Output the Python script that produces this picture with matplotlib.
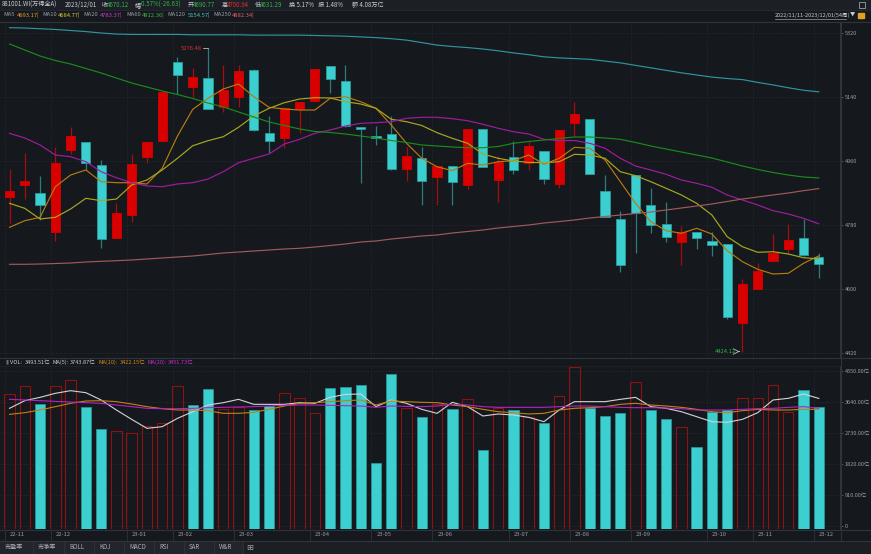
import numpy as np
import matplotlib.pyplot as plt
from matplotlib.patches import Rectangle
from matplotlib.lines import Line2D
from matplotlib.transforms import blended_transform_factory

plt.rcParams['font.family'] = ['Noto Sans CJK SC', 'DejaVu Sans']

# weekly candles 2022/11/11 - 2023/12/01 (54 weeks), 881001.WI
opens = [4859.7, 4893.4, 4870.0, 4759.4, 4990.9, 5014.4, 4949.7, 4743.4, 4808.1, 4970.3,
         5017.2, 5237.5, 5169.0, 5192.5, 5111.9, 5139.0, 5215.0, 5037.8, 5023.7, 5107.2,
         5129.7, 5227.2, 5186.0, 5054.7, 5031.0, 5035.0, 4938.4, 4969.4, 4915.0, 4947.0,
         4893.4, 5049.0, 4906.6, 4972.0, 4953.4, 4989.0, 4896.2, 5066.0, 5077.2, 4876.6,
         4796.9, 4920.6, 4836.3, 4782.8, 4732.2, 4759.4, 4734.0, 4726.6, 4505.3, 4600.9,
         4679.7, 4711.6, 4744.4, 4690.77]
closes = [4875.6, 4903.7, 4836.3, 4954.4, 5031.0, 4953.4, 4740.6, 4812.8, 4951.6, 5013.4,
          5155.0, 5201.0, 5196.3, 5107.2, 5158.7, 5213.1, 5047.2, 5017.2, 5110.0, 5125.0,
          5217.8, 5189.7, 5058.4, 5049.0, 5025.6, 4937.5, 4973.1, 4902.8, 4946.0, 4902.0,
          5050.0, 4942.0, 4958.0, 4934.7, 5003.1, 4909.4, 5047.0, 5092.0, 4922.5, 4803.4,
          4666.6, 4814.7, 4780.0, 4747.2, 4761.3, 4742.5, 4722.8, 4520.3, 4613.0, 4650.6,
          4700.3, 4737.8, 4696.75, 4670.12]
highs = [4936.6, 4983.4, 4918.8, 4998.4, 5054.7, 5014.4, 4962.8, 4840.9, 4979.7, 5013.4,
         5157.0, 5253.4, 5222.5, 5276.48, 5230.0, 5230.0, 5218.0, 5087.5, 5110.0, 5125.0,
         5219.0, 5228.0, 5231.0, 5055.0, 5059.4, 5086.6, 5000.0, 5000.0, 4946.0, 4947.0,
         5050.0, 5049.0, 4974.0, 5016.3, 5014.4, 4989.0, 5047.0, 5125.9, 5077.2, 4920.6,
         4819.4, 4920.6, 4885.0, 4844.7, 4778.0, 4759.4, 4760.3, 4726.6, 4628.0, 4672.2,
         4754.7, 4781.9, 4795.9, 4700.94]
lows = [4784.7, 4852.2, 4794.0, 4735.9, 4979.7, 4934.7, 4716.2, 4743.4, 4789.4, 4955.3,
        5015.0, 5148.4, 5140.9, 5105.0, 5098.8, 5111.0, 5045.0, 4981.6, 4995.6, 5037.8,
        5128.0, 5150.0, 5056.0, 4899.0, 5005.0, 4936.0, 4904.7, 4837.0, 4837.0, 4836.0,
        4880.3, 4942.0, 4845.6, 4923.4, 4934.7, 4895.3, 4883.0, 5031.0, 4922.5, 4802.0,
        4648.8, 4702.2, 4758.4, 4731.3, 4667.5, 4711.6, 4692.8, 4516.6, 4424.12, 4600.9,
        4679.7, 4700.3, 4692.8, 4631.29]
# volume, 亿
volumes = [3864, 4109, 3579, 4109, 4276, 3500, 2844, 2785, 2718, 2932,
           3011, 4099, 3540, 4020, 3420, 3500, 3403, 3516, 3893, 3746,
           3305, 4049, 4089, 4147, 1834, 4452, 3473, 3206, 3577, 3442,
           3717, 2216, 3451, 3413, 3200, 3030, 3815, 4677, 3472, 3226,
           3305, 4226, 3403, 3148, 2913, 2324, 3354, 3403, 3746, 3746,
           4138, 3341, 4001, 3493.51]

# moving averages as drawn
ma5 = [4773.5, 4792.1, 4801.6, 4887.7, 4920.6, 4934.7, 4901.8, 4899.0, 4899.0, 4895.3,
       4939.5, 5030.3, 5105.4, 5136.3, 5162.5, 5176.6, 5140.8, 5111.0, 5106.2, 5103.4,
       5103.4, 5136.3, 5140.8, 5126.8, 5108.2, 5061.2, 5009.8, 4967.6, 4943.9, 4932.7,
       4953.5, 4948.7, 4958.0, 4960.8, 4976.9, 4950.7, 4967.6, 4998.5, 4995.7, 4962.8,
       4901.8, 4841.0, 4789.3, 4764.0, 4756.6, 4770.7, 4754.7, 4707.7, 4676.8, 4655.4,
       4642.2, 4644.2, 4672.3, 4693.17]
ma10 = [4841.0, 4826.9, 4796.9, 4801.6, 4825.0, 4855.1, 4848.3, 4853.1, 4892.5, 4906.6,
        4934.7, 4967.6, 5003.0, 5017.1, 5028.3, 5054.8, 5086.6, 5108.2, 5124.0, 5134.4,
        5138.0, 5137.2, 5126.8, 5120.3, 5108.2, 5077.3, 5070.5, 5059.8, 5039.6, 5023.8,
        5009.8, 4979.7, 4967.6, 4960.0, 4956.3, 4955.2, 4958.0, 4978.8, 4976.9, 4967.6,
        4929.9, 4918.6, 4901.8, 4883.2, 4864.4, 4841.0, 4808.1, 4747.1, 4718.9, 4703.2,
        4704.9, 4698.4, 4688.0, 4684.77]
ma20 = [5037.9, 5024.7, 5005.0, 4976.9, 4972.1, 4958.0, 4929.9, 4913.0, 4899.0, 4889.7,
        4887.7, 4895.3, 4899.0, 4909.4, 4929.9, 4955.2, 4967.6, 4979.7, 5007.8, 5021.0,
        5037.9, 5047.2, 5058.4, 5066.0, 5067.7, 5070.5, 5080.1, 5082.9, 5082.9, 5079.0,
        5073.3, 5063.2, 5052.0, 5042.4, 5035.9, 5021.0, 5017.1, 5017.6, 5009.8, 4995.7,
        4967.6, 4945.9, 4934.7, 4922.6, 4906.6, 4897.3, 4886.1, 4864.4, 4850.3, 4836.3,
        4820.3, 4811.0, 4798.8, 4783.37]
ma60 = [5289.1, 5272.2, 5255.3, 5242.7, 5232.8, 5220.2, 5207.5, 5193.4, 5179.4, 5168.1,
        5156.9, 5147.0, 5135.8, 5123.1, 5112.1, 5097.8, 5083.8, 5069.7, 5059.8, 5050.0,
        5043.0, 5040.2, 5035.9, 5030.3, 5024.7, 5017.6, 5012.0, 5005.0, 5002.2, 4999.4,
        4997.4, 4997.4, 5000.8, 5009.8, 5014.8, 5019.1, 5023.3, 5027.5, 5027.5, 5024.7,
        5021.0, 5012.0, 5002.2, 4993.7, 4985.3, 4976.9, 4968.4, 4957.2, 4946.0, 4936.1,
        4927.7, 4920.6, 4915.0, 4912.36]
ma120 = [5335, 5334, 5332, 5330, 5327, 5324, 5320, 5317, 5316, 5316,
         5316, 5316, 5315, 5315, 5315, 5315, 5314, 5314, 5314, 5314,
         5313, 5312, 5311, 5309, 5307, 5304, 5300, 5293, 5286, 5282,
         5279, 5275, 5270, 5264, 5259, 5253, 5250, 5248, 5246, 5241,
         5236, 5229, 5222, 5215, 5208, 5202, 5196, 5192, 5189, 5181,
         5174, 5166, 5159, 5154.57]
ma250 = [4669.5, 4669.5, 4670.3, 4671.7, 4673.1, 4675.9, 4677.9, 4679.6, 4681.6, 4684.4,
         4687.2, 4690.0, 4692.8, 4697.0, 4701.3, 4704.0, 4706.9, 4709.7, 4712.5, 4714.5,
         4718.1, 4722.3, 4726.6, 4732.2, 4735.0, 4740.6, 4744.8, 4749.1, 4751.9, 4757.5,
         4761.7, 4765.9, 4771.6, 4775.8, 4780.0, 4785.6, 4789.8, 4794.1, 4799.7, 4803.9,
         4808.1, 4812.3, 4816.6, 4822.2, 4827.8, 4833.4, 4839.1, 4846.1, 4853.1, 4858.8,
         4864.4, 4870.0, 4876.5, 4882.34]
vol_ma5 = [3452, 3677, 3775, 3893, 3971, 3912, 3697, 3403, 3128, 2863,
           2912, 3157, 3353, 3550, 3618, 3716, 3569, 3569, 3569, 3618,
           3599, 3775, 3863, 3873, 3501, 3697, 3599, 3422, 3304, 3628,
           3501, 3226, 3285, 3255, 3187, 3059, 3403, 3648, 3648, 3648,
           3716, 3775, 3501, 3452, 3353, 3206, 3059, 3040, 3128, 3324,
           3697, 3746, 3873, 3743.87]
vol_ma10 = [3275, 3324, 3403, 3501, 3599, 3667, 3677, 3648, 3579, 3501,
            3442, 3403, 3403, 3383, 3305, 3305, 3334, 3422, 3520, 3599,
            3618, 3648, 3677, 3697, 3550, 3667, 3648, 3628, 3618, 3550,
            3501, 3422, 3353, 3324, 3285, 3305, 3403, 3452, 3471, 3501,
            3569, 3599, 3550, 3520, 3481, 3422, 3353, 3324, 3383, 3422,
            3403, 3403, 3422, 3422.15]
vol_ma20 = [3716, 3697, 3677, 3657, 3638, 3618, 3599, 3550, 3501, 3452,
            3442, 3442, 3452, 3471, 3481, 3491, 3501, 3520, 3540, 3550,
            3550, 3540, 3530, 3520, 3481, 3520, 3510, 3501, 3520, 3569,
            3550, 3501, 3481, 3481, 3481, 3481, 3501, 3520, 3520, 3501,
            3481, 3471, 3471, 3461, 3442, 3403, 3403, 3403, 3422, 3442,
            3452, 3481, 3501, 3451.73]

month_labels = ['22-11', '22-12', '23-01', '23-02', '23-03', '23-04', '23-05',
                '23-06', '23-07', '23-08', '23-09', '23-10', '23-11', '23-12']
month_index = [0, 3, 8, 11, 15, 20, 24, 28, 33, 37, 41, 46, 49, 53]
price_ticks = [4420, 4600, 4780, 4960, 5140, 5320]
vol_ticks = [0, 910, 1820, 2730, 3640, 4550]
tabs = ['市盈率', '市净率', 'BOLL', 'KDJ', 'MACD', 'RSI', 'SAR', 'W&R', '⊞']

W, H = 871, 554
BG = '#15181d'
GRID = '#262a31'
LINE = '#2f333a'
TXT = '#9a9ea6'
RED = '#d90000'
CYAN = '#3ccfcf'
GREEN = '#2fb24a'

def fx(x):
    return x / W

def fy(y):
    return 1 - y / H

fig = plt.figure(figsize=(W / 100, H / 100), dpi=100, facecolor=BG)

def txt(x, y, s, color=TXT, size=4.2, ha='left'):
    fig.text(fx(x), fy(y), s, color=color, fontsize=size, ha=ha, va='center')

def hline(y, x0=0, x1=W, color=LINE, lw=0.8):
    fig.add_artist(Line2D([fx(x0), fx(x1)], [fy(y), fy(y)], color=color, lw=lw))

def vline(x, y0, y1, color=LINE, lw=0.8):
    fig.add_artist(Line2D([fx(x), fx(x)], [fy(y0), fy(y1)], color=color, lw=lw))

# header strip
fig.add_artist(Rectangle((0, fy(10)), 1, 10 / H, color='#1c1f25', zorder=0))
hline(10, color='#24272e')
hline(21.5)

n = len(closes)
x = np.arange(n)
o = np.array(opens); c = np.array(closes)
hi = np.array(highs); lo = np.array(lows)
up = c >= o
vol_up = c >= np.r_[o[0], c[:-1]]

chg = c[-1] - c[-2]
head = [(2, '881001.WI(万得全A)', '#c9ccd1'), (65, '2023/12/01', '#c9ccd1'),
        (102, '收', '#c9ccd1'), (107, f'{c[-1]:.2f}', GREEN),
        (135, '幅', '#c9ccd1'), (140, f'{chg / c[-2] * 100:.2f}%({chg:.2f})', GREEN),
        (188, '开', '#c9ccd1'), (193, f'{o[-1]:.2f}', GREEN),
        (222, '高', '#c9ccd1'), (227, f'{hi[-1]:.2f}', '#e03030'),
        (255, '低', '#c9ccd1'), (260, f'{lo[-1]:.2f}', GREEN),
        (289, '换 5.17%', '#c9ccd1'), (318, '振 1.48%', '#c9ccd1'),
        (352, '额 4.08万亿', '#c9ccd1')]
for hx, s, col in head:
    txt(hx, 5, s, col, 4.4)

ma_defs = [('MA5', ma5, '#b87a10', '#e39a2c', 3, 17),
           ('MA10', ma10, '#a8a81e', '#d4c83a', 42, 58),
           ('MA20', ma20, '#a01ca0', '#d43ad4', 83, 100),
           ('MA60', ma60, '#1b8a1b', '#3cb83c', 126, 142),
           ('MA120', ma120, '#2f959c', '#45c6cc', 167, 188),
           ('MA250', ma250, '#a05a5a', '#e06464', 213, 232)]
for name, vals, lc, tc, lx, vx in ma_defs:
    txt(lx, 15, name, TXT, 4.2)
    txt(vx, 15, f'{vals[-1]:.2f}|', tc, 4.2)

txt(775, 15, '2022/11/11-2023/12/01(54周)', '#c9ccd1', 4.0)
hline(18.5, 775, 846, '#9a9ea6', 0.5)
txt(850, 15, '▼', '#c9ccd1', 3.8)
fig.add_artist(Rectangle((fx(858), fy(18)), 6 / W, 5 / H, color='#e0a020'))
fig.add_artist(Rectangle((fx(859), fy(8)), 6 / W, 6 / H, fill=False, ec='#9a9ea6', lw=0.6))

# price panel
xl = (-9.5 / 15.27, (840 - 9.5) / 15.27)
ax = fig.add_axes([0, fy(358), fx(840), (358 - 22) / H])
ax.set_facecolor(BG)
ax.set_xlim(*xl)
ax.set_ylim(5320 - (358 - 33) * 2.8125, 5320 + (33 - 22) * 2.8125)

ax.vlines(x, lo, hi, colors=np.where(up, '#a80c0c', '#2c7c7e'), lw=0.9, zorder=2)
ax.bar(x, np.maximum(np.abs(c - o), 1.5), bottom=np.minimum(o, c), width=0.6,
       color=np.where(up, RED, CYAN), edgecolor=np.where(up, RED, '#2a9a9c'),
       lw=0.6, zorder=3)
for name, vals, lc, tc, lx, vx in ma_defs:
    ax.plot(x, vals, color=lc, lw=0.85, zorder=4)

ih = int(np.argmax(hi))
ax.plot([ih - 0.33, ih], [hi[ih], hi[ih]], color='#b8bcc2', lw=0.6, zorder=5)
ax.text(ih - 0.38, hi[ih], f'{hi[ih]:.2f}', color='#d83030', fontsize=4.2,
        ha='right', va='center')
il = int(np.argmin(lo))
ax.annotate('', xy=(il, lo[il]), xytext=(il - 0.38, lo[il]),
            arrowprops=dict(arrowstyle='->', color='#b8bcc2', lw=0.6))
ax.text(il - 0.42, lo[il], f'{lo[il]:.2f}', color=GREEN, fontsize=4.2,
        ha='right', va='center')

# volume panel
ax2 = fig.add_axes([0, fy(529), fx(840), (529 - 366) / H])
ax2.set_facecolor(BG)
ax2.set_xlim(*xl)
vmin = -(529 - 525.7) * 29.41
ax2.set_ylim(vmin, (525.7 - 366) * 29.41)
vol = np.array(volumes)
for i in range(n):
    if vol_up[i]:
        ax2.bar(x[i], vol[i] - vmin, bottom=vmin, width=0.68, facecolor='none',
                edgecolor='#8e1212', lw=0.8, zorder=2)
    else:
        ax2.bar(x[i], vol[i] - vmin, bottom=vmin, width=0.68, color=CYAN,
                edgecolor='#2a9a9c', lw=0.5, zorder=2)
ax2.plot(x, vol_ma5, color='#d2d4d8', lw=0.8, zorder=4)
ax2.plot(x, vol_ma10, color='#c08414', lw=0.8, zorder=4)
ax2.plot(x, vol_ma20, color='#b422c4', lw=0.8, zorder=4)

vx_list = [(5, '▮', '#6a6e76'), (10, 'VOL:', '#c9ccd1'), (25, f'{vol[-1]:.2f}亿', '#c9ccd1'),
           (52, 'MA(5):', '#c9ccd1'), (70, f'{vol_ma5[-1]:.2f}亿', '#c9ccd1'),
           (98, 'MA(10):', '#d08a18'), (120, f'{vol_ma10[-1]:.2f}亿', '#d08a18'),
           (147, 'MA(20):', '#c82ad4'), (168, f'{vol_ma20[-1]:.2f}亿', '#c82ad4')]
for vx, s, col in vx_list:
    txt(vx, 362, s, col, 4.0)

for a, ticks, labels in [(ax, price_ticks, [str(t) for t in price_ticks]),
                         (ax2, vol_ticks, ['0'] + [f'{t:.2f}亿' for t in vol_ticks[1:]])]:
    for sp in ['top', 'left', 'bottom']:
        a.spines[sp].set_visible(False)
    a.spines['right'].set_color(LINE)
    a.yaxis.tick_right()
    a.set_yticks(ticks)
    a.set_yticklabels(labels)
    a.tick_params(axis='y', colors='#5a5e66', labelcolor=TXT, labelsize=4.0,
                  length=2, width=0.6, pad=1.5)
    a.set_xticks([m - 0.3 for m in month_index])
    a.tick_params(axis='x', length=0, labelbottom=False)
    a.grid(True, color=GRID, linestyle=(0, (1.5, 2)), lw=0.6)
    a.set_axisbelow(True)

hline(358)
hline(366, 0, 840, '#20242a', 0.6)
hline(529.5)
hline(540.5)
vline(840.5, 21.5, 540.5)

# date axis
tr = blended_transform_factory(ax2.transData, fig.transFigure)
for m, lab in zip(month_index, month_labels):
    ax2.text(m + 0.02, fy(535), lab, transform=tr, color=TXT, fontsize=4.2,
             ha='left', va='center')
    fig.add_artist(Line2D([m - 0.3, m - 0.3], [fy(530), fy(540)], transform=tr,
                          color=LINE, lw=0.6))

# bottom tabs
fig.add_artist(Rectangle((0, 0), 1, fy(541), color='#1b1e23', zorder=0))
tab_x = [0, 33, 64, 94, 124, 154, 184, 214, 243]
for i, t in enumerate(tabs):
    x0 = tab_x[i]
    x1 = tab_x[i + 1] if i + 1 < len(tab_x) else 258
    if t == '⊞':
        txt(x0 + 7, 547, t, '#9a9ea6', 6, 'center')
        continue
    fig.add_artist(Rectangle((fx(x0), fy(553)), (x1 - x0 - 1) / W, 12 / H,
                             color='#22262c', zorder=0))
    vline(x1 - 0.5, 541, 553, '#30343b', 0.6)
    txt(x0 + 5, 547, t, '#aeb2b8', 4.4)

fig.savefig('out.png', dpi=100, facecolor=BG)
